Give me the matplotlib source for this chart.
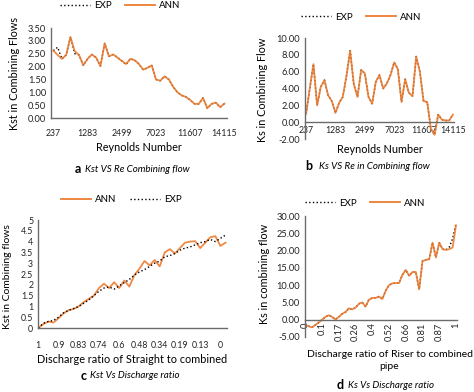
import numpy as np
import matplotlib.pyplot as plt

plt.rcParams['font.family'] = ['Lato', 'DejaVu Sans']

# ---- panel a: Kst vs Re ----
re_labels = ["237", "1283", "2499", "7023", "11607", "14115"]
a_ann = [2.62, 2.45, 2.30, 2.45, 3.15, 2.60, 2.45, 2.05, 2.30, 2.47,
         2.35, 2.02, 2.90, 2.40, 2.47, 2.35, 2.22, 2.10, 2.30, 2.25,
         2.10, 1.88, 1.95, 2.05, 1.50, 1.45, 1.62, 1.50, 1.22, 1.00,
         0.88, 0.82, 0.70, 0.55, 0.55, 0.78, 0.38, 0.55, 0.60, 0.42, 0.56]
a_exp = [2.62, 2.75, 2.30, 2.45, 3.15, 2.50, 2.45, 2.05, 2.30, 2.47,
         2.35, 2.02, 2.90, 2.40, 2.47, 2.35, 2.22, 2.08, 2.30, 2.25,
         2.10, 1.88, 1.95, 2.05, 1.50, 1.45, 1.62, 1.50, 1.22, 1.00,
         0.88, 0.82, 0.70, 0.55, 0.55, 0.78, 0.38, 0.55, 0.60, 0.42, 0.56]

# ---- panel b: Ks vs Re ----
b_ann = [1.0, 4.0, 6.9, 2.0, 4.2, 5.0, 3.2, 2.5, 1.1, 2.3,
         3.0, 5.5, 8.5, 4.5, 3.0, 6.2, 5.8, 3.0, 2.2, 4.8,
         5.6, 4.0, 4.6, 5.6, 7.1, 6.3, 2.4, 5.1, 3.5, 3.1,
         7.8, 6.0, 2.5, 2.4, -0.8, -1.5, 0.9, 0.3, 0.2, 0.2, 0.9]
b_exp = [1.0, 4.0, 6.9, 2.0, 4.2, 5.0, 3.2, 2.5, 1.1, 2.3,
         3.0, 5.5, 8.5, 4.5, 3.0, 6.2, 5.8, 3.0, 2.2, 4.8,
         5.6, 4.0, 4.6, 5.6, 7.1, 6.3, 2.4, 5.1, 3.5, 3.1,
         7.8, 6.0, 2.5, 2.4, -0.8, -1.5, 0.9, 0.3, 0.2, 0.2, 0.9]

# ---- panel c: Kst vs discharge ratio ----
c_labels = ["1", "0.9", "0.83", "0.74", "0.6", "0.48", "0.34", "0.19", "0.13", "0"]
c_ann = [0.0, 0.18, 0.30, 0.25, 0.45, 0.68, 0.82, 0.88, 1.0, 1.2,
         1.35, 1.5, 1.85, 2.05, 1.85, 2.12, 1.85, 2.2, 1.92, 2.45,
         2.75, 3.1, 2.9, 3.15, 2.85, 3.5, 3.65, 3.45, 3.7, 3.95,
         4.0, 4.02, 3.7, 3.95, 4.2, 4.25, 3.8, 3.95]
c_exp = [0.0, 0.22, 0.30, 0.35, 0.5, 0.7, 0.82, 0.9, 1.0, 1.15,
         1.3, 1.5, 1.7, 1.85, 1.9, 1.8, 1.95, 2.1, 2.25, 2.45,
         2.6, 2.7, 2.85, 3.0, 3.1, 3.3, 3.35, 3.45, 3.6, 3.7,
         3.75, 3.85, 3.95, 4.0, 4.1, 4.0, 4.15, 4.3]

# ---- panel d: Ks vs discharge ratio ----
d_labels = ["0", "0.1", "0.17", "0.26", "0.4", "0.52", "0.66", "0.81", "0.87", "1"]
d_ann = [-1.5, -1.9, -2.2, -1.5, -0.8, 0.0, 0.8, 1.3, 0.8, 0.1,
         0.8, 1.7, 2.2, 3.3, 3.0, 3.5, 4.6, 5.0, 3.8, 5.8,
         6.3, 6.3, 6.7, 6.0, 8.4, 10.0, 10.5, 10.6, 10.6, 13.0,
         14.4, 12.7, 13.8, 13.8, 8.8, 17.0, 17.3, 17.5, 22.3, 18.0,
         22.3, 20.4, 20.2, 20.4, 20.9, 27.3]
d_exp = [-1.2, -1.9, -2.2, -1.5, -0.8, 0.0, 0.8, 1.3, 0.8, 0.1,
         0.8, 1.7, 2.2, 3.3, 3.0, 3.5, 4.6, 5.0, 3.8, 5.8,
         6.3, 6.3, 6.7, 6.0, 8.4, 10.0, 10.5, 10.6, 10.6, 13.0,
         14.4, 12.7, 13.8, 13.8, 8.8, 17.0, 17.3, 17.5, 22.3, 18.0,
         22.3, 20.4, 20.2, 21.0, 23.5, 27.8]

ORANGE = '#ED7D31'
SPINE = '#6b6b6b'
W, H = 474, 392
TICK_FS = 6.7
LABEL_FS = 7.8
LEG_FS = 7

fig = plt.figure(figsize=(4.74, 3.92), dpi=100)


def px_axes(l, t, r, b):
    return fig.add_axes([l / W, 1 - b / H, (r - l) / W, (b - t) / H])


def style(ax):
    for s in ['top', 'right']:
        ax.spines[s].set_visible(False)
    for s in ['left', 'bottom']:
        ax.spines[s].set_color(SPINE)
        ax.spines[s].set_linewidth(1.0)
    ax.tick_params(length=0, labelsize=TICK_FS, colors='#222222')


def legend(ax, order, cx, cy):
    h = {}
    h['EXP'], = ax.plot([], [], ':', color='black', lw=1.0)
    h['ANN'], = ax.plot([], [], '-', color=ORANGE, lw=1.3)
    ax.legend([h[k] for k in order], order, loc='center', ncol=2,
              bbox_to_anchor=(cx / W, 1 - cy / H), bbox_transform=fig.transFigure,
              frameon=False, fontsize=LEG_FS, handlelength=3.1, handletextpad=0.4,
              columnspacing=1.4, borderpad=0)


def caption(lx, tx, y, letter, text):
    fig.text(lx / W, 1 - y / H, letter, fontsize=9, fontweight='bold', va='center')
    fig.text(tx / W, 1 - y / H, text, fontsize=7, style='italic', va='center')


# a
ax = px_axes(51, 28, 227, 118)
style(ax)
x = np.arange(len(a_ann))
ax.plot(x, a_exp, ':', color='black', lw=1.0)
ax.plot(x, a_ann, '-', color=ORANGE, lw=1.3, alpha=0.9)
ax.set_ylim(0, 3.5)
ax.set_yticks(np.arange(0, 3.51, 0.5))
ax.set_yticklabels([f"{v:.2f}" for v in np.arange(0, 3.51, 0.5)])
ax.set_xlim(-0.55, 40.6)
ax.set_xticks(np.arange(0, 41, 8))
ax.set_xticklabels(re_labels)
ax.tick_params(axis='x', pad=8, labelsize=6.3)
ax.set_xlabel("Reynolds Number", fontsize=LABEL_FS)
ax.xaxis.set_label_coords(0.5, -0.27)
ax.set_ylabel("Kst in Combining Flows", fontsize=LABEL_FS)
ax.yaxis.set_label_coords(-0.175, 0.5)
legend(ax, ['EXP', 'ANN'], 120, 6)
caption(75, 85, 169, 'a', 'Kst VS Re Combining flow')

# b
ax = px_axes(305, 38, 454, 139)
style(ax)
x = np.arange(len(b_ann))
ax.plot(x, b_exp, ':', color='black', lw=1.0)
ax.plot(x, b_ann, '-', color=ORANGE, lw=1.3, alpha=0.9)
ax.set_ylim(-2, 10)
ax.set_yticks(np.arange(-2, 10.1, 2))
ax.set_yticklabels([f"{v:.2f}" for v in np.arange(-2, 10.1, 2)])
ax.spines['bottom'].set_position(('data', 0))
ax.set_xlim(-0.3, 40.3)
ax.set_xticks(np.arange(0, 41, 8))
ax.set_xticklabels(re_labels)
ax.tick_params(axis='x', pad=3, labelsize=6.3)
ax.set_xlabel("Reynolds Number", fontsize=LABEL_FS)
ax.xaxis.set_label_coords(0.5, -0.05)
ax.set_ylabel("Ks in Combining Flow", fontsize=LABEL_FS)
ax.yaxis.set_label_coords(-0.25, 0.49)
legend(ax, ['EXP', 'ANN'], 361, 17)
caption(305, 319, 166, 'b', 'Ks VS Re in Combining flow')

# c
ax = px_axes(38, 220, 227, 328)
style(ax)
x = np.arange(len(c_ann))
ax.plot(x, c_ann, '-', color=ORANGE, lw=1.3, alpha=0.9)
ax.plot(x, c_exp, ':', color='black', lw=1.0)
ax.set_ylim(0, 5)
ax.set_yticks(np.arange(0, 5.01, 0.5))
ax.set_yticklabels([f"{v:g}" for v in np.arange(0, 5.01, 0.5)])
ax.set_xlim(-0.05, 37.3)
ax.set_xticks(np.arange(0, 37, 4))
ax.set_xticklabels(c_labels)
ax.tick_params(labelsize=6.3)
ax.tick_params(axis='x', pad=9)
ax.set_xlabel("Discharge ratio of Straight to combined", fontsize=LABEL_FS)
ax.xaxis.set_label_coords(0.5, -0.24)
ax.set_ylabel("Kst in Combining flows", fontsize=7.5)
ax.yaxis.set_label_coords(-0.14, 0.48)
legend(ax, ['ANN', 'EXP'], 121, 200)
caption(81, 90, 376, 'c', 'Kst Vs Discharge ratio')

# d
ax = px_axes(305, 216, 457, 337)
style(ax)
x = np.arange(len(d_ann))
ax.plot(x, d_exp, ':', color='black', lw=1.0)
ax.plot(x, d_ann, '-', color=ORANGE, lw=1.3, alpha=0.9)
ax.set_ylim(-5, 30)
ax.set_yticks(np.arange(-5, 30.1, 5))
ax.set_yticklabels([f"{v:.2f}" for v in np.arange(-5, 30.1, 5)])
ax.spines['bottom'].set_position(('data', 0))
ax.set_xlim(-0.1, 45.3)
ax.set_xticks(np.arange(0, 46, 5))
ax.set_xticklabels(d_labels, rotation=90)
ax.tick_params(axis='x', pad=2)
ax.set_xlabel("Discharge ratio of Riser to combined\npipe", fontsize=7.5, linespacing=1.4)
ax.xaxis.set_label_coords(0.556, -0.11)
ax.set_ylabel("Ks in combining flow", fontsize=LABEL_FS)
ax.yaxis.set_label_coords(-0.23, 0.52)
legend(ax, ['EXP', 'ANN'], 365, 203)
caption(337, 348, 385, 'd', 'Ks Vs Discharge ratio')

fig.savefig("out.png", dpi=100)
